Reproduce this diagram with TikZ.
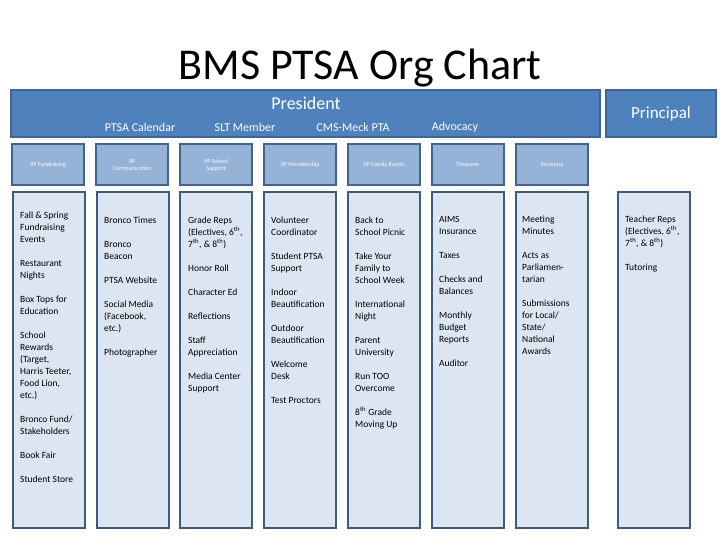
\documentclass[tikz,border=0pt]{standalone}
\usepackage{fontspec}
\setmainfont{Carlito}
\begin{document}
\begin{tikzpicture}[x=1pt,y=-1pt,
 hdr/.style={draw=hdrb,fill=hdrf,line width=1.2pt},
 vp/.style={draw=hdrb,fill=vpf,line width=1.2pt},
 col/.style={draw=colb,fill=colf,line width=1.5pt},
 vptxt/.style={text=white,font=\fontsize{6}{7}\selectfont,align=center},
 ctxt/.style={anchor=north west,inner sep=0pt,align=left,font=\fontsize{9.5}{12}\selectfont}]
\definecolor{hdrf}{HTML}{4F81BD}
\definecolor{hdrb}{HTML}{41648F}
\definecolor{vpf}{HTML}{95B3D7}
\definecolor{colf}{HTML}{DCE6F2}
\definecolor{colb}{HTML}{3F5A7F}
\useasboundingbox (0,0) rectangle (720,540);
\node (title) at (360,68) {\fontsize{44}{48}\selectfont BMS PTSA Org Chart};
\draw[hdr] (11,90) rectangle (600,137);
\node[text=white,font=\fontsize{18}{20}\selectfont] (pres) at (306,103) {President};
\begin{scope}[every node/.style={text=white,font=\fontsize{12}{14}\selectfont}]
\node (cal) at (140,127) {PTSA Calendar};
\node (slt) at (245,127) {SLT Member};
\node (cms) at (353,127) {CMS-Meck PTA};
\node (adv) at (455,127) {Advocacy};
\end{scope}
\draw[hdr] (606,90) rectangle (716,137);
\node[text=white,font=\fontsize{17}{19}\selectfont] (prin) at (661,114) {Principal};
\foreach \i/\t in {0/VP Fundraising,1/{VP\\Communication},2/{VP School\\Support},3/VP Membership,4/VP Family Events,5/Treasurer,6/Secretary}{
 \draw[vp] (12+84*\i,144) rectangle (84+84*\i,185);
 \node[vptxt] (vp\i) at (48+84*\i,165) {\t};
}
\foreach \x in {13,97,180,264,348,432,516,618}{
 \draw[col] (\x,192) rectangle (\x+72,528);
}
\node[ctxt] (c1) at (20,212) {Fall \& Spring\\Fundraising\\Events\\[12pt]Restaurant\\Nights\\[12pt]Box Tops for\\Education\\[12pt]School\\Rewards\\(Target,\\Harris Teeter,\\Food Lion,\\etc.)\\[12pt]Bronco Fund/\\Stakeholders\\[12pt]Book Fair\\[12pt]Student Store};
\node[ctxt] (c2) at (104,217) {Bronco Times\\[12pt]Bronco\\Beacon\\[12pt]PTSA Website\\[12pt]Social Media\\(Facebook,\\etc.)\\[12pt]Photographer};
\node[ctxt] (c3) at (188,217) {Grade Reps\\(Electives, 6\textsuperscript{th},\\7\textsuperscript{th}, \& 8\textsuperscript{th})\\[12pt]Honor Roll\\[12pt]Character Ed\\[12pt]Reflections\\[12pt]Staff\\Appreciation\\[12pt]Media Center\\Support};
\node[ctxt] (c4) at (271,217) {Volunteer\\Coordinator\\[12pt]Student PTSA\\Support\\[12pt]Indoor\\Beautification\\[12pt]Outdoor\\Beautification\\[12pt]Welcome\\Desk\\[12pt]Test Proctors};
\node[ctxt] (c5) at (355,217) {Back to\\School Picnic\\[12pt]Take Your\\Family to\\School Week\\[12pt]International\\Night\\[12pt]Parent\\University\\[12pt]Run TOO\\Overcome\\[12pt]8\textsuperscript{th} Grade\\Moving Up};
\node[ctxt] (c6) at (439,216) {AIMS\\Insurance\\[12pt]Taxes\\[12pt]Checks and\\Balances\\[12pt]Monthly\\Budget\\Reports\\[12pt]Auditor};
\node[ctxt] (c7) at (522,216) {Meeting\\Minutes\\[12pt]Acts as\\Parliamen-\\tarian\\[12pt]Submissions\\for Local/\\State/\\National\\Awards};
\node[ctxt] (c8) at (625,216) {Teacher Reps\\(Electives, 6\textsuperscript{th},\\7\textsuperscript{th}, \& 8\textsuperscript{th})\\[12pt]Tutoring};
\end{tikzpicture}
\end{document}
